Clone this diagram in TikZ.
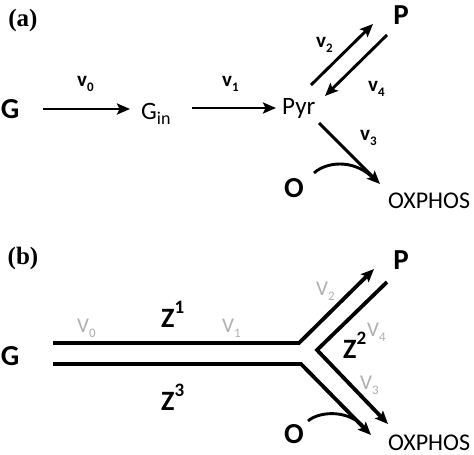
\documentclass[tikz,border=0pt]{standalone}
\usepackage{fontspec}
\setmainfont{Carlito}
\newfontfamily\panelfont{Liberation Serif}
\usetikzlibrary{arrows.meta}
\definecolor{lightlab}{RGB}{175,175,175}
\newcommand\mysub[1]{\raisebox{-0.2em}{\fontsize{18}{18}\selectfont #1}}
\newcommand\vsub[1]{\raisebox{-0.25em}{\fontsize{13}{13}\selectfont #1}}
\newcommand\zsup[1]{\raisebox{0.5em}{\fontsize{19}{19}\selectfont #1}}
\begin{document}
\begin{tikzpicture}[x=1pt,y=-1pt,
  tip/.style={-{Stealth[length=13pt,width=11pt,inset=2.5pt]}},
  flow/.style={line width=2.9pt,tip},
  pipe/.style={line width=3.8pt,line join=miter},
  joinc/.style={line width=2.9pt},
  panel/.style={inner sep=0pt,font=\panelfont\bfseries\fontsize{25}{25}\selectfont},
  big/.style={inner sep=0pt,anchor=base,font=\bfseries\fontsize{29}{29}\selectfont},
  reg/.style={inner sep=0pt,anchor=base west,font=\fontsize{25}{25}\selectfont},
  oxl/.style={inner sep=0pt,anchor=base west,font=\fontsize{24}{24}\selectfont},
  vlab/.style={inner sep=0pt,anchor=base west,font=\bfseries\fontsize{21}{21}\selectfont},
  glab/.style={inner sep=0pt,anchor=base west,text=lightlab,font=\fontsize{21}{21}\selectfont},
  zlab/.style={inner sep=0pt,anchor=base west,font=\bfseries\fontsize{28}{28}\selectfont}
]
\useasboundingbox (0,0) rectangle (474,455);

% ---------- panel (a) ----------
\node[panel] (la) at (23,20) {(a)};
\node[big] (G) at (10,118) {G};
\node[reg] (Gin) at (141,119) {G\mysub{in}};
\node[reg] (Pyr) at (282,114) {Pyr};
\node[big] (P) at (401,24) {P};
\node[big] (O) at (294,197) {O};
\node[oxl] (OX) at (388,208) {OXPHOS};

\coordinate (a0s) at (43,109);  \coordinate (a0e) at (130,109);
\coordinate (a1s) at (192,108); \coordinate (a1e) at (276,108);
\coordinate (a2s) at (311,85);  \coordinate (a2e) at (373,24);
\coordinate (a4s) at (387,35);  \coordinate (a4e) at (325,96);
\coordinate (a3s) at (319,123); \coordinate (a3e) at (380,184);
\coordinate (aos) at (314,173); \coordinate (aoe) at (371,176);

\draw[flow] (a0s) -- (a0e);
\draw[flow] (a1s) -- (a1e);
\draw[flow] (a2s) -- (a2e);
\draw[flow] (a4s) -- (a4e);
\draw[flow] (a3s) -- (a3e);
\draw[joinc] (aos) .. controls (326,162) and (352,159) .. (aoe);

\node[vlab] (v0) at (77,86) {v\vsub{0}};
\node[vlab] (v1) at (222,86) {v\vsub{1}};
\node[vlab] (v2) at (316,47) {v\vsub{2}};
\node[vlab] (v4) at (368,91) {v\vsub{4}};
\node[vlab] (v3) at (360,140) {v\vsub{3}};

% ---------- panel (b) ----------
\node[panel] (lb) at (23,258) {(b)};
\node[big] (G2) at (10,365) {G};
\node[big] (P2) at (401,269) {P};
\node[big] (O2) at (294,443) {O};
\node[oxl] (OX2) at (388,450) {OXPHOS};

\coordinate (tA) at (53,343);  \coordinate (tB) at (299,343); \coordinate (tC) at (374,269);
\coordinate (iA) at (387,282); \coordinate (iB) at (317,350); \coordinate (iC) at (388,424);
\coordinate (bA) at (53,364);  \coordinate (bB) at (301,364); \coordinate (bC) at (371,435);
\coordinate (bos) at (308,421); \coordinate (boe) at (362,425);

\draw[pipe,tip] (tA) -- (tB) -- (tC);
\draw[pipe,tip] (iA) -- (iB) -- (iC);
\draw[pipe,tip] (bA) -- (bB) -- (bC);
\draw[joinc] (bos) .. controls (318,412) and (345,409) .. (boe);

\node[zlab] (Z1) at (161,327) {Z\zsup{1}};
\node[zlab] (Z3) at (161,410) {Z\zsup{3}};
\node[zlab] (Z2) at (343,358) {Z\zsup{2}};
\node[glab] (g0) at (77,332) {V\vsub{0}};
\node[glab] (g1) at (222,332) {V\vsub{1}};
\node[glab] (g2) at (316,295) {V\vsub{2}};
\node[glab] (g4) at (367,336) {V\vsub{4}};
\node[glab] (g3) at (360,389) {V\vsub{3}};
\end{tikzpicture}
\end{document}
